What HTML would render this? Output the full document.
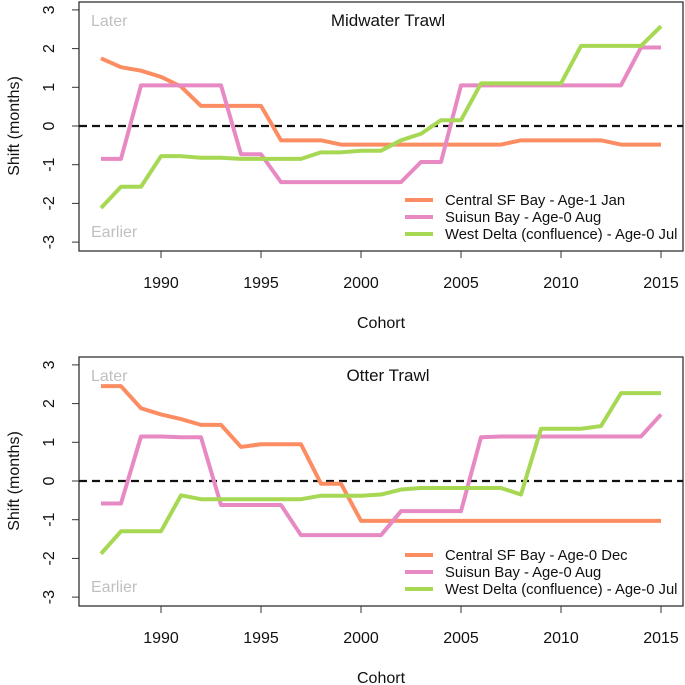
<!DOCTYPE html>
<html><head><meta charset="utf-8"><style>
body{margin:0;background:#fff}
svg{display:block;font-family:"Liberation Sans",Arial,sans-serif}
</style></head><body>
<svg id="c" width="685" height="685"></svg>
<script>
const years = [];
for (let y = 1987; y <= 2015; y++) years.push(y);
const xTicks = [1990, 1995, 2000, 2005, 2010, 2015];
const yTicks = [-3, -2, -1, 0, 1, 2, 3];
const midCentral = [1.75,1.52,1.43,1.27,1.02,0.52,0.52,0.52,0.52,-0.37,-0.37,-0.37,-0.48,-0.48,-0.48,-0.48,-0.48,-0.48,-0.48,-0.48,-0.48,-0.37,-0.37,-0.37,-0.37,-0.37,-0.48,-0.48,-0.48];
const midSuisun = [-0.85,-0.85,1.05,1.05,1.05,1.05,1.05,-0.73,-0.73,-1.45,-1.45,-1.45,-1.45,-1.45,-1.45,-1.45,-0.93,-0.93,1.05,1.05,1.05,1.05,1.05,1.05,1.05,1.05,1.05,2.03,2.03];
const midWest = [-2.12,-1.57,-1.57,-0.78,-0.78,-0.82,-0.82,-0.85,-0.85,-0.85,-0.85,-0.68,-0.68,-0.64,-0.64,-0.37,-0.2,0.15,0.15,1.1,1.1,1.1,1.1,1.1,2.07,2.07,2.07,2.07,2.58];
const otCentral = [2.45,2.45,1.88,1.72,1.6,1.45,1.45,0.88,0.95,0.95,0.95,-0.07,-0.07,-1.03,-1.03,-1.03,-1.03,-1.03,-1.03,-1.03,-1.03,-1.03,-1.03,-1.03,-1.03,-1.03,-1.03,-1.03,-1.03];
const otSuisun = [-0.58,-0.58,1.15,1.15,1.13,1.13,-0.62,-0.62,-0.62,-0.62,-1.4,-1.4,-1.4,-1.4,-1.4,-0.78,-0.78,-0.78,-0.78,1.13,1.15,1.15,1.15,1.15,1.15,1.15,1.15,1.15,1.72];
const otWest = [-1.88,-1.3,-1.3,-1.3,-0.37,-0.47,-0.47,-0.47,-0.47,-0.47,-0.47,-0.38,-0.38,-0.38,-0.35,-0.22,-0.18,-0.18,-0.18,-0.18,-0.18,-0.35,1.35,1.35,1.35,1.42,2.27,2.27,2.27];
const midLabels = ["Central SF Bay - Age-1 Jan","Suisun Bay - Age-0 Aug","West Delta (confluence) - Age-0 Jul"];
const otLabels = ["Central SF Bay - Age-0 Dec","Suisun Bay - Age-0 Aug","West Delta (confluence) - Age-0 Jul"];
const colors = ["#FC8D62","#E78AC3","#A6D854"];

const svg = document.getElementById('c');
const NS = 'http://www.w3.org/2000/svg';
function mk(tag, attrs, parent, text){
  const e = document.createElementNS(NS, tag);
  for (const k in attrs) e.setAttribute(k, attrs[k]);
  if (text !== undefined) e.textContent = text;
  parent.appendChild(e); return e;
}
const xs = y => 161 + (y - 1990) * 20;

function panel(off, title, series, labels, id){
  const ys = v => off + 126 - v * 38.7;
  const g = mk('g', {}, svg);
  
  
  const box = mk('rect', {x:79, y:off+2, width:604, height:249, fill:'none', stroke:'#333', 'stroke-width':1.3}, g);
  
  
  xTicks.forEach(t => {
    const l = mk('line', {x1:xs(t), x2:xs(t), y1:off+251, y2:off+258, stroke:'#333'}, g);
    
    
    const tx = mk('text', {x:xs(t), y:off+288, 'text-anchor':'middle', 'font-size':16, fill:'#111'}, g, t);
    
    
  });
  yTicks.forEach(t => {
    const l = mk('line', {x1:72, x2:79, y1:ys(t), y2:ys(t), stroke:'#333'}, g);
    
    
    const tx = mk('text', {x:0, y:0, 'text-anchor':'middle', 'font-size':16, fill:'#111', transform:`translate(54,${ys(t)}) rotate(-90)`}, g, t);
    
    
  });
  const yt = mk('text', {x:0, y:0, 'text-anchor':'middle', 'font-size':16, fill:'#111', transform:`translate(19,${off+126}) rotate(-90)`}, g, 'Shift (months)');
  
  
  const xt = mk('text', {x:381, y:off+328, 'text-anchor':'middle', 'font-size':16, fill:'#111'}, g, 'Cohort');
  
  
  const tt = mk('text', {x:388, y:off+26, 'text-anchor':'middle', 'font-size':17, fill:'#111'}, g, title);
  
  
  const la = mk('text', {x:91, y:off+26, 'font-size':16, fill:'#c0c0c0'}, g, 'Later');
  
  
  const ea = mk('text', {x:91, y:off+237, 'font-size':16, fill:'#c0c0c0'}, g, 'Earlier');
  
  
  const z = mk('line', {x1:79, x2:683, y1:ys(0), y2:ys(0), stroke:'#111', 'stroke-width':2.2, 'stroke-dasharray':'8,5'}, g);
  
  
  series.forEach((s, i) => {
    const pts = s.map((v, j) => xs(years[j]) + ',' + ys(v)).join(' ');
    const p = mk('polyline', {points:pts, fill:'none', stroke:colors[i], 'stroke-width':4, 'stroke-linejoin':'round'}, g);
    
    
  });
  labels.forEach((lab, i) => {
    const yy = off + 200 + i * 17;
    const l = mk('line', {x1:405, x2:433, y1:yy, y2:yy, stroke:colors[i], 'stroke-width':4}, g);
    
    
    const t = mk('text', {x:445, y:yy+5, 'font-size':14.8, fill:'#111'}, g, lab);
    
    
  });
}
panel(0, 'Midwater Trawl', [midCentral, midSuisun, midWest], midLabels, 'midwater');
panel(355, 'Otter Trawl', [otCentral, otSuisun, otWest], otLabels, 'otter');
</script>
</body></html>
